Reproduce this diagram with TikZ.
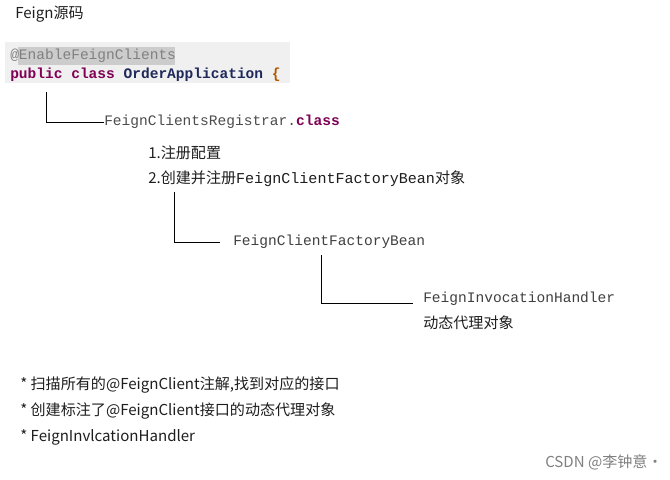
\documentclass[tikz,border=0pt]{standalone}
\usepackage{fontspec}
\setmainfont{Noto Sans CJK SC}
\newfontfamily\codefont{Liberation Mono}
\definecolor{kw}{RGB}{127,0,85}
\definecolor{cls}{RGB}{30,40,90}
\definecolor{txt}{RGB}{30,30,30}
\begin{document}
\begin{tikzpicture}[x=0.75pt,y=-0.75pt,
  lab/.style={anchor=west,inner sep=0,font=\fontsize{11.3}{13}\selectfont,text=txt},
  code/.style={anchor=west,inner sep=0,font=\codefont\fontsize{10.9}{12}\selectfont},
  conn/.style={draw=black,line width=0.6pt}]
\useasboundingbox (0,0) rectangle (670,479);
\fill[white] (0,0) rectangle (670,479);
\node[lab] (title) at (15,14) {Feign源码};
\fill[gray!12] (5,42) rectangle (290,83);
\fill[gray!40] (18,47) rectangle (175,65);
\node[code,text=gray] (ann) at (10,56) {@EnableFeignClients};
\node[code,font=\codefont\bfseries\fontsize{10.9}{12}\selectfont] (cls) at (10,75) {\textcolor{kw}{public class} \textcolor{cls}{OrderApplication} \textcolor{orange!70!black}{\{}};
\coordinate (a1) at (46,92);
\node[code,text=black!70] (reg) at (104,122) {FeignClientsRegistrar.\textcolor{kw}{\bfseries class}};
\draw[conn] (a1) |- (reg.west);
\node[lab] (s1) at (148,153) {1.注册配置};
\node[lab] (s2) at (148,179) {2.创建并注册{\codefont FeignClientFactoryBean}对象};
\coordinate (a2) at (174,192);
\node[code,text=black!75] (fb) at (233,242) {FeignClientFactoryBean};
\draw[conn] (a2) |- ([xshift=-10pt]fb.west);
\coordinate (a3) at (321,255);
\node[code,text=black!75] (ih) at (423,299) {FeignInvocationHandler};
\coordinate (a4) at (413,303);
\draw[conn] (a3) -- (321,303) -- (a4);
\node[lab] (ih2) at (423,323) {动态代理对象};
\node[lab] (b1) at (20,385) {* 扫描所有的@FeignClient注解,找到对应的接口};
\node[lab] (b2) at (20,411) {* 创建标注了@FeignClient接口的动态代理对象};
\node[lab] (b3) at (20,437) {* FeignInvlcationHandler};
\node[lab,text=gray] (csdn) at (545,462) {CSDN @李钟意·};
\end{tikzpicture}
\end{document}
